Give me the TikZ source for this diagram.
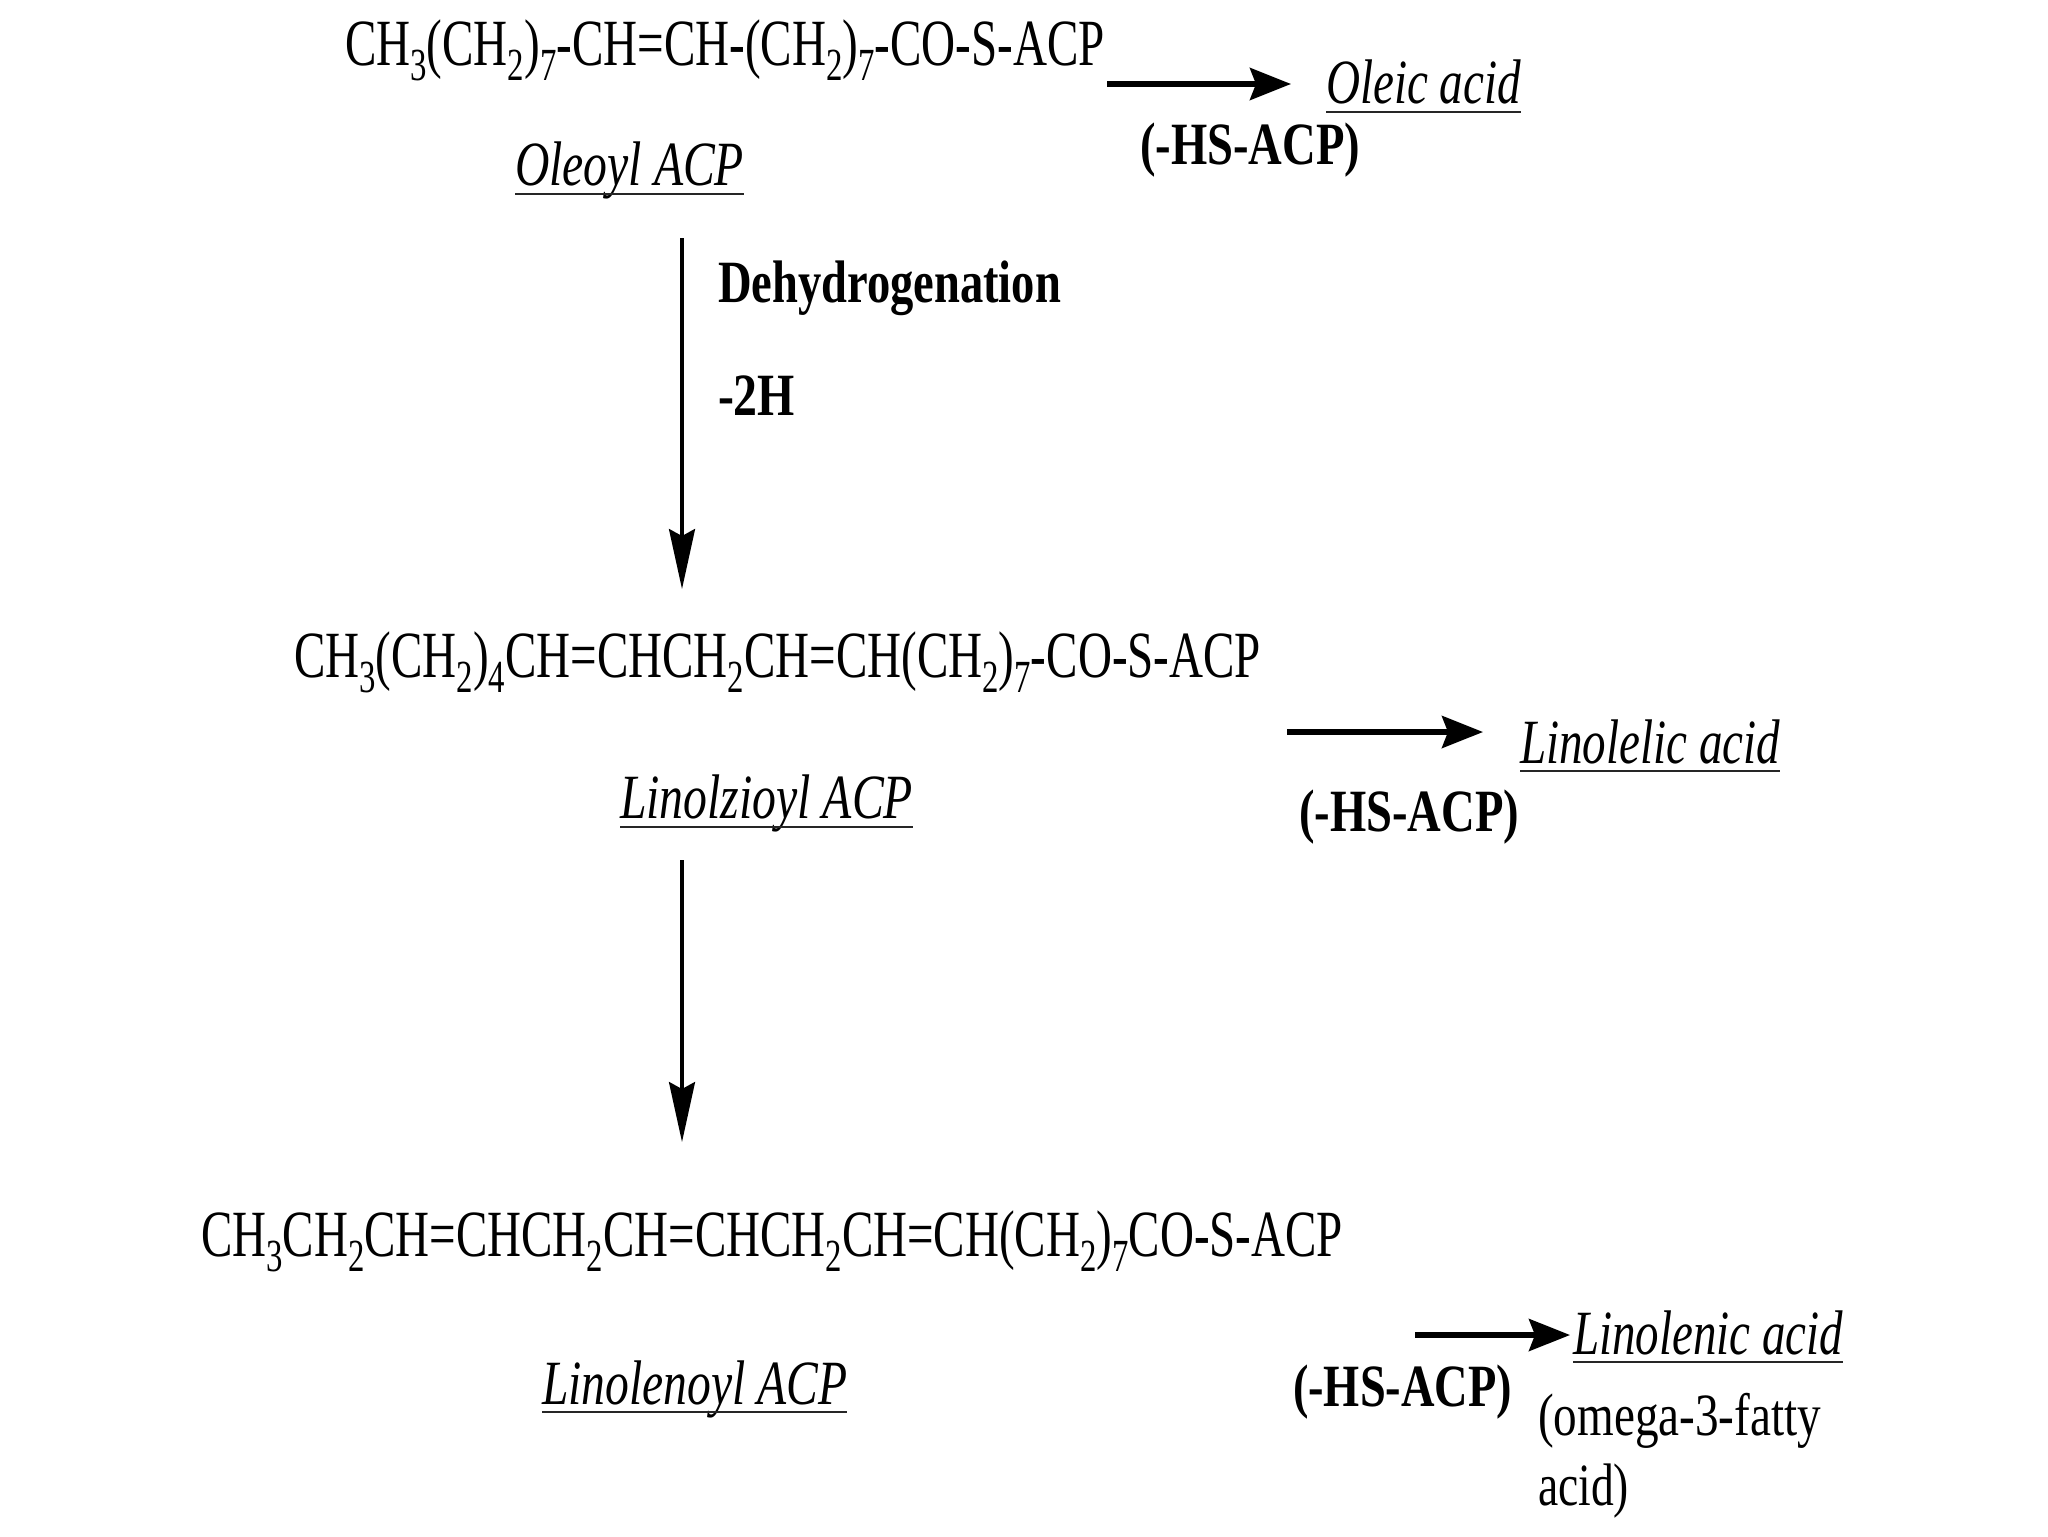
\documentclass[tikz,border=0pt]{standalone}
\usepackage{fontspec}
\usepackage{graphicx}
\setmainfont{Liberation Serif}
\usetikzlibrary{arrows.meta}
\newcommand{\dn}[1]{\raisebox{-7.5pt}{\fontsize{23}{23}\selectfont #1}}
\newcommand{\fit}[2]{\resizebox{#1pt}{\height}{#2}}
\tikzset{
  x=0.5pt,y=-0.5pt,
  txt/.style={anchor=base west,inner sep=0pt,outer sep=0pt,text=black},
  big/.style={txt,font=\fontsize{33}{33}\selectfont},
  bigit/.style={txt,font=\fontsize{31.5}{33}\selectfont\itshape},
  med/.style={txt,font=\fontsize{30}{30}\selectfont},
  medbf/.style={txt,font=\fontsize{30}{30}\selectfont\bfseries},
  ul/.style={line width=1.3pt,black!85},
  thickarrow/.style={line width=2.7pt,black,-{Stealth[length=20.5pt,width=16pt,inset=3pt]}},
  thinarrow/.style={line width=1.6pt,black,-{Stealth[length=30pt,width=13pt,inset=3.5pt]}}
}
\begin{document}
\begin{tikzpicture}
\useasboundingbox[fill=white] (0,0) rectangle (2048,1536);
% row 1
\node[big] (f1) at (345,66) {\fit{380}{CH\dn{3}(CH\dn{2})\dn{7}-CH=CH-(CH\dn{2})\dn{7}-CO-S-ACP}};
\node[bigit] (n1) at (515,185) {\fit{114.5}{Oleoyl ACP}};
\node[bigit] (p1) at (1326,104) {\fit{97.5}{Oleic acid}};
\node[medbf] (h1) at (1140,164) {\fit{110}{(-HS-ACP)}};
\node[medbf] (d) at (718,302) {\fit{171.5}{Dehydrogenation}};
\node[medbf] (t) at (718,415) {\fit{38.5}{-2H}};
% row 2
\node[big] (f2) at (294,677) {\fit{483.5}{CH\dn{3}(CH\dn{2})\dn{4}CH=CHCH\dn{2}CH=CH(CH\dn{2})\dn{7}-CO-S-ACP}};
\node[bigit] (n2) at (620,818) {\fit{146.5}{Linolzioyl ACP}};
\node[bigit] (p2) at (1520,763) {\fit{130}{Linolelic acid}};
\node[medbf] (h2) at (1299,831) {\fit{110}{(-HS-ACP)}};
% row 3
\node[big] (f3) at (201,1256) {\fit{571}{CH\dn{3}CH\dn{2}CH=CHCH\dn{2}CH=CHCH\dn{2}CH=CH(CH\dn{2})\dn{7}CO-S-ACP}};
\node[bigit] (n3) at (542,1404) {\fit{152.5}{Linolenoyl ACP}};
\node[bigit] (p3) at (1573,1354) {\fit{135}{Linolenic acid}};
\node[medbf] (h3) at (1293,1406) {\fit{109.5}{(-HS-ACP)}};
\node[med] (o1) at (1538,1435) {\fit{141.5}{(omega-3-fatty}};
\node[med] (o2) at (1538,1505) {\fit{45.5}{acid)}};
% underlines
\foreach \n/\d in {n1/9,p1/8,n2/9,p2/8,n3/8,p3/8}
  \draw[ul] ([yshift=-\d*0.5pt]\n.base west) -- ([yshift=-\d*0.5pt]\n.base east);
% connector end points
\coordinate (a1s) at (1107,84); \coordinate (a1e) at (1291,84);
\coordinate (a2s) at (1287,732); \coordinate (a2e) at (1483,732);
\coordinate (a3s) at (1415,1335); \coordinate (a3e) at (1570,1335);
\coordinate (v1s) at (682,238); \coordinate (v1e) at (682,589);
\coordinate (v2s) at (682,860); \coordinate (v2e) at (682,1142);
\draw[thickarrow] (a1s) -- (a1e);
\draw[thickarrow] (a2s) -- (a2e);
\draw[thickarrow] (a3s) -- (a3e);
\draw[thinarrow] (v1s) -- (v1e);
\draw[thinarrow] (v2s) -- (v2e);
\end{tikzpicture}
\end{document}
